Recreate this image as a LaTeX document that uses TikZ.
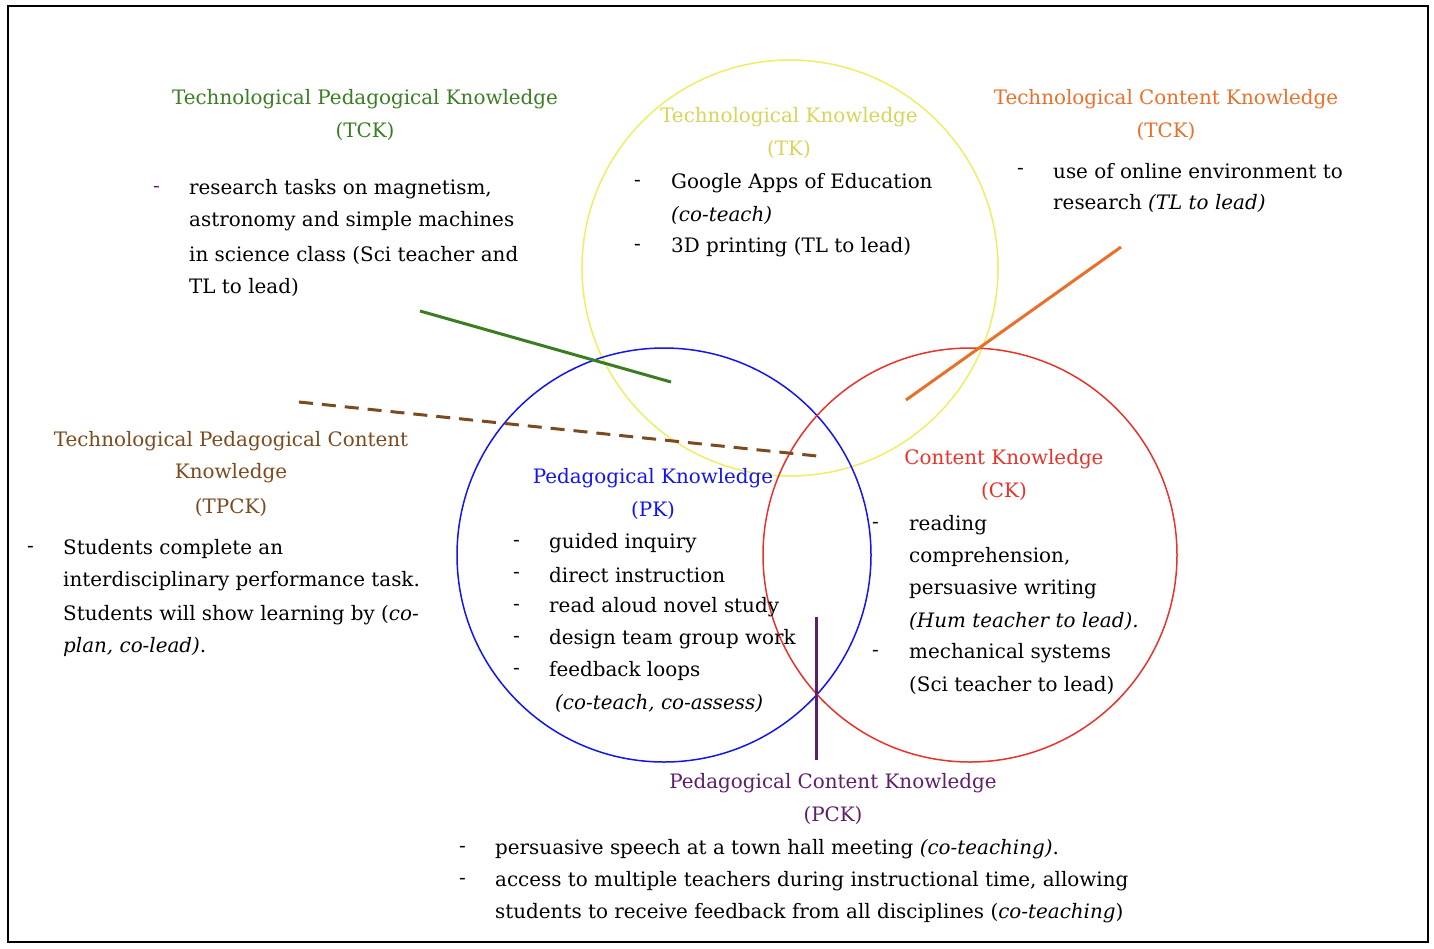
\documentclass[tikz,border=0pt]{standalone}
\usepackage{fontspec}
\setmainfont{DejaVu Serif}
\definecolor{tpkgreen}{RGB}{58,125,34}
\definecolor{tckorange}{RGB}{232,112,42}
\definecolor{tpckbrown}{RGB}{123,74,30}
\definecolor{pckpurple}{RGB}{94,31,106}
\definecolor{tkyellow}{RGB}{240,236,100}
\definecolor{pkblue}{RGB}{20,20,240}
\definecolor{ckred}{RGB}{232,51,42}
\begin{document}
\begin{tikzpicture}[x=1pt,y=-1pt,
    txt/.style={anchor=west,inner sep=0pt,font=\fontsize{19.9}{24}\selectfont},
    ttl/.style={inner sep=0pt,font=\fontsize{19.9}{24}\selectfont},
    circ/.style={line width=1.5pt}]
\draw[line width=1.3pt] (8,6) rectangle (1428,942);

% circles
\draw[circ,tkyellow] (790,268) circle (208);
\draw[circ,pkblue] (664,555) circle (207);
\draw[circ,ckred] (970,555) circle (207);

% pointer lines
\coordinate (g1) at (420,311); \coordinate (g2) at (671,382);
\coordinate (o1) at (906,400); \coordinate (o2) at (1121,247);
\coordinate (b1) at (299,402); \coordinate (b2) at (817,456);
\coordinate (p1) at (816,617); \coordinate (p2) at (816,760);
\draw[tpkgreen,line width=3pt] (g1) -- (g2);
\draw[tckorange,line width=3pt] (o1) -- (o2);
\draw[tpckbrown,line width=3pt,dash pattern=on 14pt off 9pt] (b1) -- (b2);
\draw[pckpurple,line width=3pt] (p1) -- (p2);

% TPK
\node[ttl,tpkgreen] (tpk1) at (365,99) {Technological Pedagogical Knowledge};
\node[ttl,tpkgreen] (tpk2) at (365,131) {(TCK)};
\node[txt,pckpurple] (tpkd) at (153,189) {-};
\node[txt] (tpka) at (189,189) {research tasks on magnetism,};
\node[txt] (tpkb) at (189,221) {astronomy and simple machines};
\node[txt] (tpkc) at (189,255) {in science class (Sci teacher and};
\node[txt] (tpke) at (189,287) {TL to lead)};

% TK
\node[ttl,tkyellow!90!black] (tk1) at (789,117) {Technological Knowledge};
\node[ttl,tkyellow!90!black] (tk2) at (789,149) {(TK)};
\node[txt] (tkd1) at (634,183) {-};
\node[txt] (tkd2) at (634,247) {-};
\node[txt] (tka) at (671,183) {Google Apps of Education};
\node[txt] (tkb) at (671,215) {\textit{(co-teach)}};
\node[txt] (tkc) at (671,247) {3D printing (TL to lead)};

% TCK
\node[ttl,tckorange] (tck1) at (1166,99) {Technological Content Knowledge};
\node[ttl,tckorange] (tck2) at (1166,131) {(TCK)};
\node[txt] (tckd) at (1017,171) {-};
\node[txt] (tcka) at (1053,171) {use of online environment to};
\node[txt] (tckb) at (1053,203) {research \textit{(TL to lead)}};

% TPCK
\node[ttl,tpckbrown] (tpck1) at (231,441) {Technological Pedagogical Content};
\node[ttl,tpckbrown] (tpck2) at (231,473) {Knowledge};
\node[ttl,tpckbrown] (tpck3) at (231,507) {(TPCK)};
\node[txt] (tpckd) at (27,549) {-};
\node[txt] (tpcka) at (63,549) {Students complete an};
\node[txt] (tpckb) at (63,581) {interdisciplinary performance task.};
\node[txt] (tpckc) at (63,615) {Students will show learning by (\textit{co-}};
\node[txt] (tpcke) at (63,647) {\textit{plan, co-lead)}.};

% PK
\node[ttl,pkblue] (pk1) at (653,478) {Pedagogical Knowledge};
\node[ttl,pkblue] (pk2) at (653,510) {(PK)};
\foreach \yy in {543,575,607,639,671} \node[txt] at (513,\yy) {-};
\node[txt] (pka) at (549,543) {guided inquiry};
\node[txt] (pkb) at (549,575) {direct instruction};
\node[txt] (pkc) at (549,607) {read aloud novel study};
\node[txt] (pkd) at (549,639) {design team group work};
\node[txt] (pke) at (549,671) {feedback loops};
\node[txt] (pkf) at (555,703) {\textit{(co-teach, co-assess)}};

% CK
\node[ttl,ckred] (ck1) at (1004,459) {Content Knowledge};
\node[ttl,ckred] (ck2) at (1004,491) {(CK)};
\node[txt] (ckd1) at (872,525) {-};
\node[txt] (ckd2) at (872,653) {-};
\node[txt] (cka) at (909,525) {reading};
\node[txt] (ckb) at (909,557) {comprehension,};
\node[txt] (ckc) at (909,589) {persuasive writing};
\node[txt] (cke) at (909,621) {\textit{(Hum teacher to lead).}};
\node[txt] (ckf) at (909,653) {mechanical systems};
\node[txt] (ckg) at (909,685) {(Sci teacher to lead)};

% PCK
\node[ttl,pckpurple] (pck1) at (833,783) {Pedagogical Content Knowledge};
\node[ttl,pckpurple] (pck2) at (833,815) {(PCK)};
\node[txt] (pckd1) at (459,849) {-};
\node[txt] (pckd2) at (459,881) {-};
\node[txt] (pcka) at (495,849) {persuasive speech at a town hall meeting \textit{(co-teaching)}.};
\node[txt] (pckb) at (495,881) {access to multiple teachers during instructional time, allowing};
\node[txt] (pckc) at (495,913) {students to receive feedback from all disciplines (\textit{co-teaching})};
\useasboundingbox (0,0) rectangle (1434,948);
\end{tikzpicture}
\end{document}
